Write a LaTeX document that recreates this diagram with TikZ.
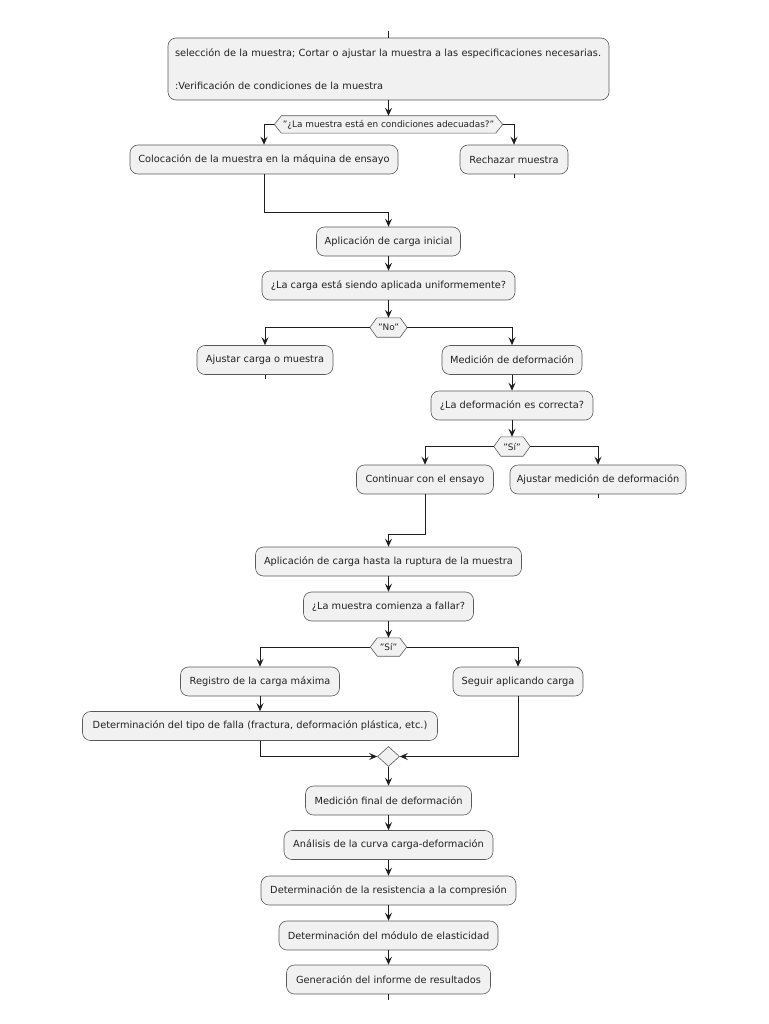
\documentclass[tikz,border=0pt]{standalone}
\usepackage{fontspec}
\setmainfont{DejaVu Sans}
\usetikzlibrary{arrows.meta,shapes.geometric,backgrounds}
\definecolor{boxfill}{HTML}{F1F1F1}
\definecolor{boxline}{HTML}{5A5A5A}
\definecolor{txt}{HTML}{222222}
\definecolor{lnc}{HTML}{1E1E1E}
\newcommand\qq{\char34 }
\tikzset{
  act/.style={draw=boxline, fill=boxfill, rounded corners=8pt, minimum height=29pt,
    inner sep=0pt, text=txt, font=\fontsize{9.8}{11}\selectfont, line width=0.6pt},
  hexn/.style={inner sep=0pt, text=txt, font=\fontsize{8.9}{10}\selectfont},
  conn/.style={draw=lnc, line width=0.9pt},
  arr/.style={conn, -{Stealth[length=8pt,width=7pt,inset=3pt]}},
  merge/.style={diamond, draw=boxline, fill=boxfill, line width=0.6pt, minimum width=22pt, minimum height=20pt, inner sep=0pt},
}
\newcommand\hexbg[1]{\begin{scope}[on background layer]\draw[draw=boxline,fill=boxfill,line width=0.6pt] (#1.west) -- ([xshift=7pt]#1.north west) -- ([xshift=-7pt]#1.north east) -- (#1.east) -- ([xshift=-7pt]#1.south east) -- ([xshift=7pt]#1.south west) -- cycle;\end{scope}}
\begin{document}
\begin{tikzpicture}[x=1pt,y=-1pt]
\begin{scope}[on background layer]
\fill[white] (0,0) rectangle (768,1024);
\end{scope}
\useasboundingbox (0,0) rectangle (768,1024);

\node[act, minimum width=441pt, minimum height=62pt, text width=427pt, align=left] (b1) at (388.5,69)
  {selección de la muestra; Cortar o ajustar la muestra a las especificaciones necesarias.\\[22pt]:Verificación de condiciones de la muestra};
\node[hexn, minimum width=228pt, minimum height=17pt] (h1) at (388.5,124.5) {\qq¿La muestra está en condiciones adecuadas?\qq};
\hexbg{h1}
\node[act, minimum width=268pt] (colo) at (264,159.5) {Colocación de la muestra en la máquina de ensayo};
\node[act, minimum width=108pt] (rech) at (514,159.5) {Rechazar muestra};
\node[act, minimum width=144pt] (apl1) at (388.5,241.5) {Aplicación de carga inicial};
\node[act, minimum width=253pt] (q1) at (388.5,285.5) {¿La carga está siendo aplicada uniformemente?};
\node[hexn, minimum width=37pt, minimum height=19pt] (h2) at (388.5,327.5) {\qq No\qq};
\hexbg{h2}
\node[act, minimum width=136pt] (ajc) at (265,360) {Ajustar carga o muestra};
\node[act, minimum width=140pt] (med) at (512,360) {Medición de deformación};
\node[act, minimum width=162pt] (q2) at (512,405.5) {¿La deformación es correcta?};
\node[hexn, minimum width=36pt, minimum height=19pt] (h3) at (512,446.5) {\qq Sí\qq};
\hexbg{h3}
\node[act, minimum width=137pt] (cont) at (425,479.5) {Continuar con el ensayo};
\node[act, minimum width=176pt] (ajm) at (598,479.5) {Ajustar medición de deformación};
\node[act, minimum width=266pt] (apl2) at (388.5,561.5) {Aplicación de carga hasta la ruptura de la muestra};
\node[act, minimum width=170pt] (q3) at (388.5,606.5) {¿La muestra comienza a fallar?};
\node[hexn, minimum width=36pt, minimum height=18pt] (h4) at (388.5,647) {\qq Sí\qq};
\hexbg{h4}
\node[act, minimum width=159pt] (reg) at (260,681.5) {Registro de la carga máxima};
\node[act, minimum width=130pt] (seg) at (518,681.5) {Seguir aplicando carga};
\node[act, minimum width=355pt] (det) at (260,726) {Determinación del tipo de falla (fractura, deformación plástica, etc.)};
\node[merge] (dia) at (388.5,756.5) {};
\node[act, minimum width=166pt] (mf) at (388.5,800.5) {Medición final de deformación};
\node[act, minimum width=209pt] (an) at (388.5,845) {Análisis de la curva carga-deformación};
\node[act, minimum width=255pt] (dr) at (388.5,890.5) {Determinación de la resistencia a la compresión};
\node[act, minimum width=219pt] (dm) at (388.5,935.5) {Determinación del módulo de elasticidad};
\node[act, minimum width=204pt] (gi) at (388.5,979.5) {Generación del informe de resultados};

\coordinate (top) at (388.5,31);
\draw[conn] (top) -- (b1.north);
\draw[arr] (b1.south) -- (h1.north);
\draw[arr] (h1.west) -| (colo.north);
\draw[arr] (h1.east) -| (rech.north);
\draw[conn] (rech.south) -- ++(0,4);
\draw[arr] (colo.south) -- ++(0,38) -| (apl1.north);
\draw[arr] (apl1) -- (q1);
\draw[arr] (q1) -- (h2);
\draw[arr] (h2.west) -| (ajc.north);
\draw[arr] (h2.east) -| (med.north);
\draw[conn] (ajc.south) -- ++(0,4);
\draw[arr] (med) -- (q2);
\draw[arr] (q2) -- (h3);
\draw[arr] (h3.west) -| (cont.north);
\draw[arr] (h3.east) -| (ajm.north);
\draw[conn] (ajm.south) -- ++(0,4);
\draw[arr] (cont.south) -- ++(0,40) -| (apl2.north);
\draw[arr] (apl2) -- (q3);
\draw[arr] (q3) -- (h4);
\draw[arr] (h4.west) -| (reg.north);
\draw[arr] (h4.east) -| (seg.north);
\draw[arr] (reg) -- (det);
\draw[arr] (det.south) |- (dia.west);
\draw[arr] (seg.south) |- (dia.east);
\draw[arr] (dia) -- (mf);
\draw[arr] (mf) -- (an);
\draw[arr] (an) -- (dr);
\draw[arr] (dr) -- (dm);
\draw[arr] (dm) -- (gi);
\draw[conn] (gi.south) -- ++(0,6);
\end{tikzpicture}
\end{document}
